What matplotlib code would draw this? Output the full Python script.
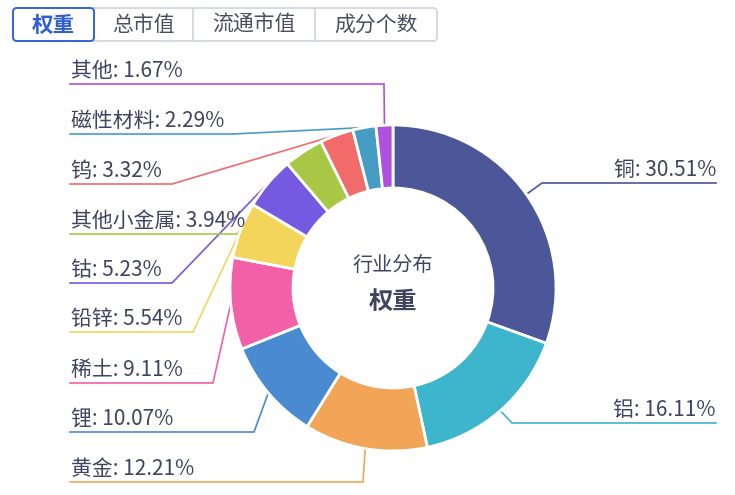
import numpy as np
import matplotlib
matplotlib.use("Agg")
import matplotlib.pyplot as plt
from matplotlib.patches import FancyBboxPatch, Rectangle

plt.rcParams['font.family'] = ['Noto Sans CJK SC', 'DejaVu Sans']

# data: industry weight distribution (clockwise from top)
names = ['铜', '铝', '黄金', '锂', '稀土', '铅锌', '钴', '其他小金属', '钨', '磁性材料', '其他']
weights = [30.51, 16.11, 12.21, 10.07, 9.11, 5.54, 5.23, 3.94, 3.32, 2.29, 1.67]
colors = ['#4c5799', '#3db5cc', '#f2a556', '#4a8ad1', '#f261a8', '#f2d55a',
          '#735ae0', '#a8c845', '#f26b6b', '#459dc4', '#b050e0']
tabs = ['权重', '总市值', '流通市值', '成分个数']

# label layout (pixel space): line row y and elbow x for each slice
label_row = [183, 423, 482, 432, 383, 332, 283, 234, 184, 134, 84]
label_elbow = [542, 512, 363, 254, 213, 193, 172, 237, 172, 233, 384]

text_col = '#3f4460'
cx, cy, R, W = 393, 288, 163, 63

fig = plt.figure(figsize=(7.35, 4.95), dpi=100)
ax = fig.add_axes([0, 0, 1, 1])

wedges, _ = ax.pie(weights, colors=colors, startangle=-90, counterclock=True,
                   center=(cx, cy), radius=R,
                   wedgeprops=dict(width=W, edgecolor='white', linewidth=2))
for w in wedges:
    w.set_zorder(3)

ax.set_xlim(0, 735)
ax.set_ylim(495, 0)
ax.set_aspect('equal')
ax.axis('off')

# labels with leader lines
for w, name, val, col, ly, ex in zip(wedges, names, weights, colors, label_row, label_elbow):
    mid = np.deg2rad((w.theta1 + w.theta2) / 2)
    px, py = cx + R * np.cos(mid), cy + R * np.sin(mid)
    right = np.cos(mid) > 0
    end_x = 716 if right else 70
    ax.plot([px, ex, end_x], [py, ly, ly], color=col, lw=1.2, zorder=2,
            solid_joinstyle='miter')
    ax.text(end_x + (0 if right else 1), ly - 2, f'{name}: {val:.2f}%',
            ha='right' if right else 'left', va='bottom', fontsize=15,
            color=text_col, zorder=4)

# center text
ax.text(cx, 265, '行业分布', ha='center', va='center', fontsize=14.5, color=text_col)
ax.text(cx, 302, '权重', ha='center', va='center', fontsize=17.5, fontweight='bold', color=text_col)

# tab bar
ax.add_patch(FancyBboxPatch((13, 8), 424, 33, boxstyle='round,pad=0,rounding_size=4',
                            fc='white', ec='#cfd2e0', lw=1.2, zorder=5))
edges = [13, 94, 193, 315, 437]
for x in edges[1:-1]:
    ax.plot([x, x], [8, 41], color='#cfd2e0', lw=1.2, zorder=6)
ax.add_patch(FancyBboxPatch((13, 8), 81, 33, boxstyle='round,pad=0,rounding_size=4',
                            fc='white', ec='#2f66d6', lw=1.4, zorder=7))
for i, t in enumerate(tabs):
    xm = (edges[i] + edges[i + 1]) / 2
    if i == 0:
        ax.text(xm, 25, t, ha='center', va='center', fontsize=15.5, fontweight='bold',
                color='#2f5fd6', zorder=8)
    else:
        ax.text(xm, 25, t, ha='center', va='center', fontsize=15, color='#4a4e60', zorder=8)

fig.savefig('out.png', dpi=100)
